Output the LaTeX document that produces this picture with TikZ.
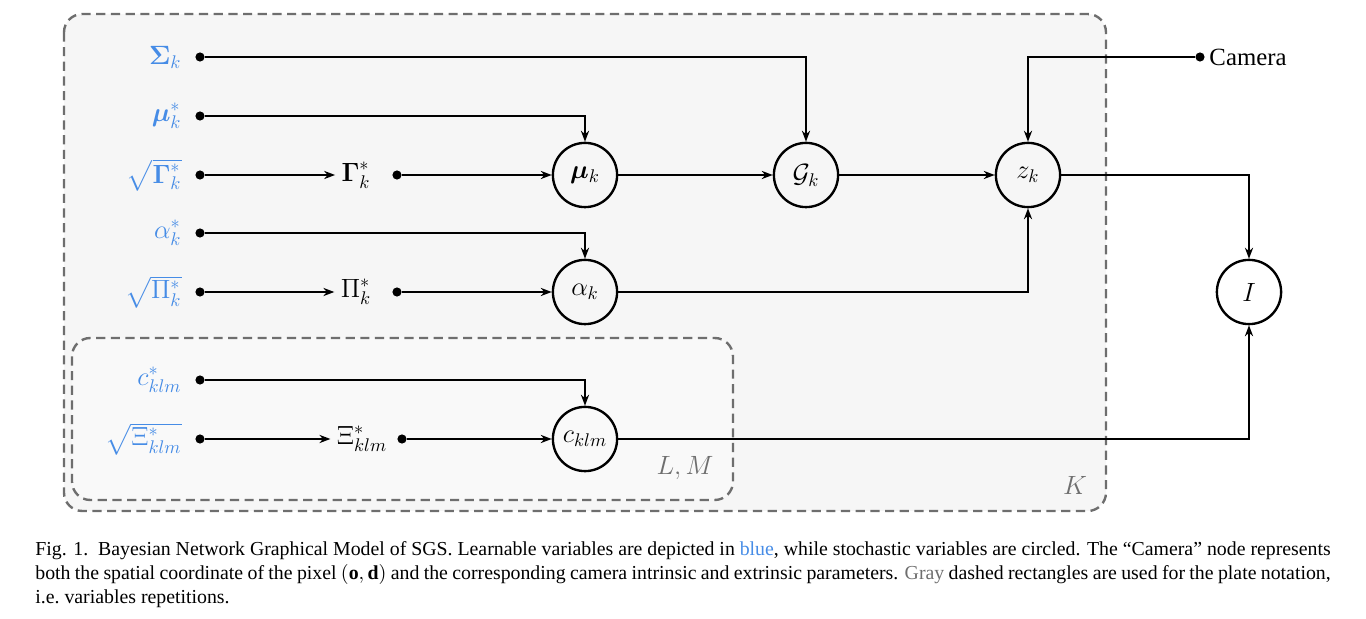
\documentclass[tikz,border=0pt]{standalone}
\usepackage{fontspec}
\usepackage{amsmath,amssymb,bm}
\setmainfont{Liberation Serif}
\usetikzlibrary{arrows.meta}
\definecolor{lblue}{RGB}{70,140,230}
\definecolor{pgray}{RGB}{110,110,110}
\begin{document}
\begin{tikzpicture}[x=0.545pt,y=-0.545pt,
  plate/.style={draw=pgray,dashed,line width=1.3pt,rounded corners=10pt,dash pattern=on 5pt off 3pt},
  rv/.style={circle,draw,line width=1.3pt,minimum size=35pt,inner sep=0pt,font=\fontsize{14}{16}\selectfont},
  dot/.style={circle,fill,inner sep=0pt,minimum size=5pt},
  lbl/.style={anchor=east,text=lblue,font=\fontsize{14}{16}\selectfont},
  mid/.style={font=\fontsize{14}{16}\selectfont},
  arr/.style={-{Stealth[length=6pt]},line width=0.8pt},
  ln/.style={line width=0.8pt}]
\useasboundingbox (0,0) rectangle (1366,619);
\draw[plate,fill=gray!7] (64,14) rectangle (1106,511);
\draw[plate,fill=gray!5] (72,338) rectangle (733,500);
\node[text=pgray,font=\fontsize{14}{16}\selectfont] (K) at (1075,485) {$K$};
\node[text=pgray,font=\fontsize{14}{16}\selectfont] (LM) at (685,468) {$L,M$};
% left labels
\node[lbl] (sig) at (188,57) {$\boldsymbol{\Sigma}_k$};
\node[lbl] (mus) at (188,116) {$\boldsymbol{\mu}_k^*$};
\node[lbl] (gs) at (188,175) {$\sqrt{\boldsymbol{\Gamma}_k^*}$};
\node[lbl] (as) at (188,233) {$\alpha_k^*$};
\node[lbl] (ps) at (188,292) {$\sqrt{\Pi_k^*}$};
\node[lbl] (cs) at (188,380) {$c_{klm}^*$};
\node[lbl] (xs) at (188,439) {$\sqrt{\Xi_{klm}^*}$};
\foreach \n/\y in {d1/57,d2/116,d3/175,d4/233,d5/292,d6/380,d7/439} \node[dot] (\n) at (200,\y) {};
\node[mid] (G) at (356,175) {$\boldsymbol{\Gamma}_k^*$};
\node[mid] (P) at (356,292) {$\Pi_k^*$};
\node[mid] (X) at (362,439) {$\Xi_{klm}^*$};
\node[dot] (dG) at (397,175) {};
\node[dot] (dP) at (397,292) {};
\node[dot] (dX) at (402,439) {};
\node[rv] (mu) at (585,175) {$\boldsymbol{\mu}_k$};
\node[rv] (Gk) at (806,175) {$\mathcal{G}_k$};
\node[rv] (z) at (1028,175) {$z_k$};
\node[rv] (al) at (585,292) {$\alpha_k$};
\node[rv] (c) at (585,439) {$c_{klm}$};
\node[rv] (I) at (1249,292) {$I$};
\node[dot] (dc) at (1200,57) {};
\node[anchor=west,font=\fontsize{13.5}{15}\selectfont] (cam) at (1203,57) {Camera};
% connectors
\draw[arr] (d1) -| (Gk);
\draw[arr] (d2) -| (mu);
\draw[arr] (d3) -- (G.west);
\draw[arr] (dG) -- (mu);
\draw[arr] (d4) -| (al);
\draw[arr] (d5) -- (P.west);
\draw[arr] (dP) -- (al);
\draw[arr] (d6) -| (c);
\draw[arr] (d7) -- (X.west);
\draw[arr] (dX) -- (c);
\draw[arr] (mu) -- (Gk);
\draw[arr] (Gk) -- (z);
\draw[arr] (dc) -| (z);
\draw[arr] (al) -| (z);
\draw[arr] (z) -| (I);
\draw[arr] (c) -| (I);
% caption
\node[anchor=north west,text width=706pt,align=justify,font=\fontsize{10.8pt}{13pt}\selectfont,inner sep=0pt] (cap) at (35,541)
{Fig. 1.\ \ Bayesian Network Graphical Model of SGS. Learnable variables are depicted in \textcolor{lblue}{blue}, while stochastic variables are circled. The ``Camera'' node represents both the spatial coordinate of the pixel $(\mathbf{o},\mathbf{d})$ and the corresponding camera intrinsic and extrinsic parameters. \textcolor{pgray}{Gray} dashed rectangles are used for the plate notation, i.e.\ variables repetitions.};
\end{tikzpicture}
\end{document}
